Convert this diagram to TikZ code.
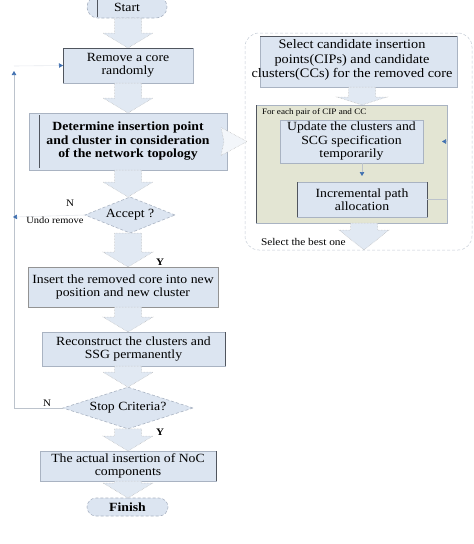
\documentclass[tikz,border=0pt]{standalone}
\usepackage{fontspec}
\setmainfont{Liberation Serif}[FakeStretch=1.1]
\usetikzlibrary{calc,arrows.meta,shapes.geometric,shapes.misc}
\definecolor{boxfill}{HTML}{DCE5F1}
\definecolor{boxline}{HTML}{A9B3C2}
\definecolor{darkedge}{HTML}{50555E}
\definecolor{greenfill}{HTML}{E3E5D3}
\definecolor{tipblue}{HTML}{3F6FB0}
\definecolor{faint}{HTML}{BCC3CC}
\definecolor{veryfaint}{HTML}{E6E9EE}
% block arrow pointing down: [head length]{x}{from}{to}
\newcommand\bdown[4][15pt]{%
  \path[barrow] let \p1=(#3), \p2=(#4) in
    (#2-13.5pt,\y1) -- (#2+13.5pt,\y1) -- (#2+13.5pt,\y2+#1) -- (#2+25pt,\y2+#1)
    -- (#2,\y2) -- (#2-25pt,\y2+#1) -- (#2-13.5pt,\y2+#1) -- cycle;}
\begin{document}
\begin{tikzpicture}[x=1pt,y=-1pt,
  every node/.style={inner sep=0pt, outer sep=0pt},
  mainfont/.style={font=\fontsize{12.5}{13.5}\selectfont},
  box/.style={draw=boxline, line width=0.6pt, fill=boxfill, align=center, mainfont},
  term/.style={rounded rectangle, draw=boxline, densely dashed, line width=0.6pt, fill=boxfill, align=center, mainfont},
  dia/.style={diamond, aspect=2.5, draw=boxline, densely dashed, line width=0.6pt, fill=boxfill, align=center, mainfont},
  barrow/.style={draw=gray!55, densely dotted, line width=0.5pt, fill=boxfill!85!white},
  fb/.style={draw=faint, line width=0.6pt, -{Triangle[length=4pt,width=4.5pt,color=tipblue]}},
  fbf/.style={fb, draw=veryfaint},
  lbl/.style={font=\fontsize{10}{11}\selectfont},
  dk/.style={draw=darkedge, line width=0.8pt},
]
\useasboundingbox (0,0) rectangle (474,544);

% ---------- left column ----------
\node[term, minimum width=80, minimum height=22] (start) at (127,7) {Start};
\node[box, minimum width=130, minimum height=35] (remove) at (128,65.5) {Remove a core\\randomly};
\node[box, minimum width=198, minimum height=57, font=\bfseries\fontsize{12.5}{13.5}\selectfont] (determine) at (128,141.5)
  {Determine insertion point\\and cluster in consideration\\of the network topology};
\node[dia, minimum width=90, minimum height=36] (accept) at (130,215) {Accept ?};
\node[box, draw=gray!85, minimum width=190, minimum height=40] (insert) at (123,287)
  {Insert the removed core into new\\position and new cluster};
\node[box, minimum width=183, minimum height=34] (reconstruct) at (133.5,349)
  {Reconstruct the clusters and\\SSG permanently};
\node[dia, minimum width=130, minimum height=34] (stop) at (128,408) {Stop Criteria?};
\node[box, minimum width=176, minimum height=30] (actual) at (128,466)
  {The actual insertion of NoC\\components};
\node[term, minimum width=81, minimum height=18, font=\bfseries\fontsize{12.5}{13.5}\selectfont] (finish) at (127.5,507) {Finish};

% ---------- right part ----------
\node[draw=boxline!70, densely dashed, line width=0.5pt, rounded corners=14pt, minimum width=227, minimum height=217] (frame) at (358.5,141.5) {};
\node[box, minimum width=197, minimum height=51] (select) at (358.5,61.5) {};
\node[align=center, font=\fontsize{13}{14.5}\selectfont] (selecttxt) at (352,60)
  {Select candidate insertion\\points(CIPs) and candidate\\clusters(CCs) for the removed core};
\node[draw=boxline, line width=0.6pt, fill=greenfill, minimum width=191, minimum height=118] (loopbox) at (351.5,164) {};
\node[anchor=west, font=\fontsize{8.3}{9}\selectfont] (foreach) at (262,112) {For each pair of CIP and CC};
\node[box, minimum width=143, minimum height=43] (update) at (351.5,141.5)
  {Update the clusters and\\SCG specification\\temporarily};
\node[box, minimum width=130, minimum height=35] (incremental) at (362,199.5)
  {Incremental path\\allocation};
\node[anchor=west, font=\fontsize{10.3}{11}\selectfont] (best) at (261,242) {Select the best one};
\coordinate (bestend) at (364,250);

% ---------- block arrows ----------
\bdown{128pt}{start.south}{remove.north}
\bdown{128pt}{remove.south}{determine.north}
\bdown{128pt}{determine.south}{accept.north}
\bdown{128pt}{accept.south}{insert.north}
\bdown{128pt}{insert.south}{reconstruct.north}
\bdown{128pt}{reconstruct.south}{stop.north}
\bdown{128pt}{stop.south}{actual.north}
\bdown{128pt}{actual.south}{finish.north}
\bdown[8pt]{362pt}{select.south}{loopbox.north}
\bdown[20pt]{364pt}{loopbox.south}{bestend}
\path[barrow, fill=boxfill!35!white] let \p1=(determine.east) in
  (\x1-6pt,\y1+14pt) -- (\x1+20pt,\y1) -- (\x1-6pt,\y1-14pt) -- (\x1-3pt,\y1) -- cycle;

% ---------- dark edges ----------
\draw[dk] (remove.south west) -- (remove.north west) -- (remove.north east);
\draw[dk] ($(determine.north west)+(10,2)$) -- ($(determine.south west)+(10,-2)$);
\draw[dk] (reconstruct.north east) -- (reconstruct.south east);
\draw[dk] (actual.north east) -- (actual.south east);
\draw[dk] (select.north west) -- (select.north east);
\draw[dk] (incremental.south west) -- (incremental.north west);
\draw[dk] (incremental.north east) -- (incremental.south east);
\draw[dk] (loopbox.north west) -- (loopbox.south west);
\draw[dk] ($(start.north)+(-30,4)$) -- ($(start.south)+(-30,-1)$);

% ---------- thin connectors ----------
\coordinate (fbbot) at (14,408);
\coordinate (fbtop) at (14,71);
\coordinate (fbcorner) at (14,66);
\coordinate (undoend) at (13,217);
\coordinate (lr) at (447,199.5);
\draw[fb] (stop.west) -- (fbbot) -- (fbtop);
\draw[fbf] (fbcorner) -- (remove.west);
\draw[fbf] (accept.west) -- (undoend);
\draw[fb, shorten >=6pt] (incremental.north |- update.south) -- (incremental.north);
\draw[fb, shorten >=19pt] (incremental.east) -- (lr) |- (update.east);

% ---------- labels ----------
\node[lbl] (nacc) at (70,203) {N};
\node[font=\fontsize{9.5}{10}\selectfont] (undo) at (55,220) {Undo remove};
\node[lbl, font=\bfseries\fontsize{10}{11}\selectfont] (yacc) at (160,262) {Y};
\node[lbl] (nstop) at (47,403) {N};
\node[lbl, font=\bfseries\fontsize{10}{11}\selectfont] (ystop) at (160,432) {Y};
\end{tikzpicture}
\end{document}
